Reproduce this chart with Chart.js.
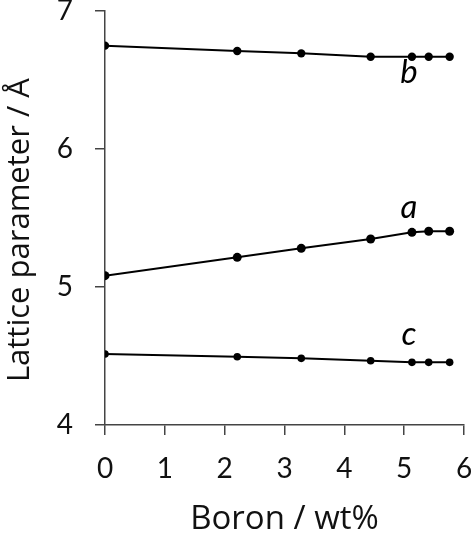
<!DOCTYPE html>
<html>
<head>
<meta charset="utf-8">
<script src="https://cdn.jsdelivr.net/npm/chart.js@4"></script>
<style>
html,body{margin:0;padding:0;background:#fff;}
canvas{display:block;}
</style>
</head>
<body>
<canvas id="c" width="474" height="536"></canvas>
<script>
const boron = [0, 2.21, 3.28, 4.44, 5.13, 5.41, 5.76];
const paramA = [5.082, 5.215, 5.280, 5.348, 5.396, 5.404, 5.404];
const paramB = [6.749, 6.710, 6.693, 6.669, 6.669, 6.669, 6.669];
const paramC = [4.514, 4.495, 4.483, 4.466, 4.454, 4.454, 4.454];
const seriesNames = ['a', 'b', 'c'];
const xTicks = [0, 1, 2, 3, 4, 5, 6];
const yTicks = [4, 5, 6, 7];

const FONT = 'Lato';
const TITLE_FONT = 'Open Sans';
const toPts = arr => arr.map((v, i) => ({x: boron[i], y: v}));

// label offset (px) relative to 5th point of each series
const labelOffsets = {a: {dx: -3, dy: -14}, b: {dx: -3, dy: 26}, c: {dx: -3, dy: -17}};

const seriesLabels = {
  id: 'seriesLabels',
  afterDatasetsDraw(chart) {
    const ctx = chart.ctx;
    ctx.save();
    ctx.font = 'italic 33px ' + FONT;
    ctx.fillStyle = '#000';
    ctx.textAlign = 'center';
    ctx.textBaseline = 'alphabetic';
    chart.data.datasets.forEach((ds, i) => {
      const meta = chart.getDatasetMeta(i);
      const p = meta.data[4];
      const off = labelOffsets[ds.label];
      ctx.fillText(ds.label, p.x + off.dx, p.y + off.dy);
    });
    ctx.restore();
  }
};

const dsStyle = (r) => ({
  showLine: true,
  borderColor: '#000',
  borderWidth: 2,
  backgroundColor: '#000',
  pointBackgroundColor: '#000',
  pointBorderColor: '#000',
  pointRadius: r,
  pointBorderWidth: 0,
  tension: 0
});

const noPad = s => { s.paddingTop = 0; s.paddingBottom = 0; s.paddingLeft = 0; s.paddingRight = 0; };

new Chart(document.getElementById('c'), {
  type: 'scatter',
  data: {
    datasets: [
      Object.assign({label: seriesNames[0], data: toPts(paramA)}, dsStyle(4.5)),
      Object.assign({label: seriesNames[1], data: toPts(paramB)}, dsStyle(4.2)),
      Object.assign({label: seriesNames[2], data: toPts(paramC)}, dsStyle(3.8))
    ]
  },
  plugins: [seriesLabels],
  options: {
    responsive: false,
    animation: false,
    devicePixelRatio: 1,
    layout: {padding: {top: 11, right: 10, left: 0, bottom: 0}},
    plugins: {legend: {display: false}, tooltip: {enabled: false}},
    scales: {
      x: {
        type: 'linear',
        min: 0, max: 6,
        afterBuildTicks: s => { s.ticks = xTicks.map(v => ({value: v})); },
        afterFit: s => { s.height = 111; noPad(s); },
        ticks: {color: '#111', font: {family: FONT, size: 28, lineHeight: 1}, padding: 20, maxRotation: 0},
        grid: {drawOnChartArea: false, drawTicks: true, tickLength: 10, color: '#444', lineWidth: 1.5},
        border: {color: '#444', width: 1.5},
        title: {display: true, text: 'Boron / wt%', color: '#111', font: {family: TITLE_FONT, size: 33}, padding: {top: 0, bottom: -3}}
      },
      y: {
        type: 'linear',
        min: 4, max: 7,
        afterBuildTicks: s => { s.ticks = yTicks.map(v => ({value: v})); },
        afterFit: s => { s.width = 105; noPad(s); },
        ticks: {color: '#111', font: {family: FONT, size: 28, lineHeight: 0.7}, padding: 22},
        grid: {drawOnChartArea: false, drawTicks: true, tickLength: 10, color: '#444', lineWidth: 1.5},
        border: {color: '#444', width: 1.5},
        title: {display: true, text: 'Lattice parameter / Å\u00a0\u00a0\u00a0', color: '#111', font: {family: TITLE_FONT, size: 31}, padding: {top: 2, bottom: 0}}
      }
    }
  }
});
</script>
</body>
</html>
